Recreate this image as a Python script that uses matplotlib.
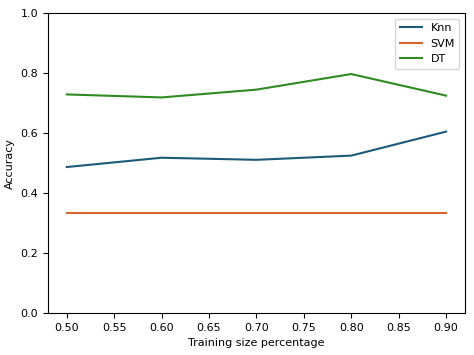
import matplotlib
matplotlib.use('Agg')
import matplotlib.pyplot as plt

# values
train_size = [0.5, 0.6, 0.7, 0.8, 0.9]
knn_acc = [0.487, 0.518, 0.511, 0.525, 0.605]
svm_acc = [0.333, 0.333, 0.333, 0.333, 0.333]
dt_acc = [0.729, 0.719, 0.745, 0.797, 0.725]

plt.rcParams['font.size'] = 8
fig = plt.figure(figsize=(4.74, 3.55), dpi=100)
ax = fig.add_axes([0.101, 0.118, 0.880, 0.845])

ax.plot(train_size, knn_acc, color='#1d5a78', lw=1.5, label='Knn')
ax.plot(train_size, svm_acc, color='#d8662a', lw=1.5, label='SVM')
ax.plot(train_size, dt_acc, color='#2f8a22', lw=1.5, label='DT')

ax.set_ylim(0, 1.0)
ax.set_xticks([0.5, 0.55, 0.6, 0.65, 0.7, 0.75, 0.8, 0.85, 0.9])
ax.set_xlabel('Training size percentage')
ax.set_ylabel('Accuracy')
ax.legend(loc='upper right')

fig.savefig('out.png', dpi=100)
